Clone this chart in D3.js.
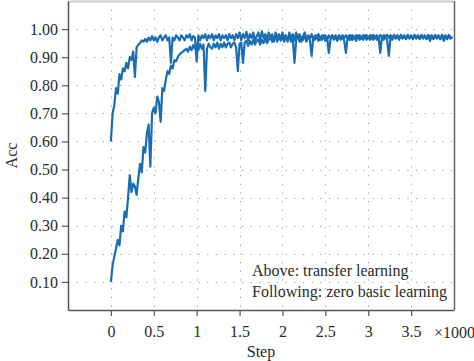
<!DOCTYPE html>
<html>
<head>
<meta charset="utf-8">
<script src="https://cdn.jsdelivr.net/npm/d3@7"></script>
<style>
  body { margin: 0; background: #fff; }
  svg text { font-family: "Liberation Serif", "DejaVu Serif", serif; fill: #2a2a2a; }
</style>
</head>
<body>
<div id="chart"></div>
<script>
// step interval between samples (x1000 steps)
const stepSize = 0.02;

const xTicks = [0, 0.5, 1, 1.5, 2, 2.5, 3, 3.5];
const yTicks = [0.1, 0.2, 0.3, 0.4, 0.5, 0.6, 0.7, 0.8, 0.9, 1.0];

const legendLines = ["Above: transfer learning", "Following: zero basic learning"];

// transfer learning accuracy, one value per 20 steps
const transferAcc = [
  0.60, 0.70, 0.73, 0.79, 0.77, 0.84, 0.82, 0.86, 0.85, 0.88,
  0.86, 0.90, 0.89, 0.92, 0.83, 0.935, 0.945, 0.95, 0.96, 0.955,
  0.965, 0.955, 0.97, 0.96, 0.975, 0.96, 0.97, 0.955, 0.97, 0.978,
  0.96, 0.97, 0.978, 0.96, 0.97, 0.88, 0.97, 0.96, 0.978, 0.97,
  0.96, 0.978, 0.97, 0.96, 0.978, 0.97, 0.982, 0.96, 0.975, 0.97,
  0.885, 0.978, 0.96, 0.978, 0.968, 0.982, 0.96, 0.978, 0.968, 0.982,
  0.96, 0.978, 0.968, 0.982, 0.96, 0.978, 0.968, 0.978, 0.96, 0.982,
  0.968, 0.978, 0.96, 0.982, 0.968, 0.988, 0.96, 0.982, 0.968, 0.99,
  0.96, 0.982, 0.968, 0.988, 0.955, 0.975, 0.988, 0.96, 0.992, 0.968,
  0.982, 0.96, 0.988, 0.968, 0.982, 0.955, 0.988, 0.968, 0.982, 0.96,
  0.988, 0.968, 0.978, 0.955, 0.988, 0.968, 0.982, 0.96, 0.988, 0.968,
  0.982, 0.955, 0.975, 0.988, 0.96, 0.978, 0.968, 0.982, 0.96, 0.978,
  0.968, 0.982, 0.962, 0.978, 0.968, 0.978, 0.962, 0.978, 0.968, 0.978,
  0.968, 0.978, 0.962, 0.978, 0.968, 0.978, 0.968, 0.978, 0.968, 0.978,
  0.962, 0.978, 0.968, 0.978, 0.968, 0.978, 0.966, 0.978, 0.968, 0.979,
  0.968, 0.978, 0.966, 0.979, 0.97, 0.978, 0.968, 0.979, 0.97, 0.978,
  0.968, 0.979, 0.97, 0.978, 0.968, 0.979, 0.97, 0.978, 0.968, 0.979,
  0.97, 0.978, 0.966, 0.979, 0.97, 0.978, 0.968, 0.979, 0.97, 0.978,
  0.968, 0.979, 0.97, 0.978, 0.968, 0.979, 0.97, 0.978, 0.968, 0.979,
  0.97, 0.978, 0.966, 0.979, 0.97, 0.978, 0.966, 0.979, 0.97, 0.97
];

// zero basic learning accuracy, one value per 20 steps
const zeroAcc = [
  0.10, 0.16, 0.19, 0.22, 0.25, 0.23, 0.30, 0.28, 0.35, 0.33,
  0.40, 0.48, 0.42, 0.45, 0.44, 0.41, 0.47, 0.52, 0.49, 0.58,
  0.56, 0.63, 0.66, 0.51, 0.70, 0.72, 0.70, 0.76, 0.74, 0.67,
  0.79, 0.78, 0.82, 0.85, 0.84, 0.87, 0.86, 0.89, 0.885, 0.90,
  0.91, 0.915, 0.92, 0.925, 0.93, 0.92, 0.938, 0.925, 0.943, 0.93,
  0.945, 0.925, 0.948, 0.93, 0.945, 0.78, 0.93, 0.948, 0.935, 0.93,
  0.948, 0.935, 0.952, 0.93, 0.948, 0.935, 0.952, 0.935, 0.948, 0.952,
  0.935, 0.948, 0.952, 0.935, 0.85, 0.948, 0.952, 0.88, 0.952, 0.958,
  0.94, 0.958, 0.945, 0.962, 0.945, 0.958, 0.962, 0.945, 0.962, 0.95,
  0.968, 0.95, 0.962, 0.972, 0.955, 0.968, 0.972, 0.955, 0.978, 0.96,
  0.972, 0.955, 0.972, 0.96, 0.978, 0.955, 0.972, 0.88, 0.962, 0.978,
  0.955, 0.972, 0.962, 0.978, 0.955, 0.972, 0.962, 0.905, 0.972, 0.962,
  0.978, 0.958, 0.972, 0.962, 0.978, 0.958, 0.972, 0.915, 0.962, 0.978,
  0.962, 0.972, 0.958, 0.978, 0.962, 0.972, 0.958, 0.915, 0.972, 0.962,
  0.978, 0.962, 0.972, 0.958, 0.978, 0.962, 0.972, 0.962, 0.978, 0.962,
  0.972, 0.962, 0.978, 0.962, 0.972, 0.962, 0.972, 0.915, 0.972, 0.962,
  0.978, 0.962, 0.905, 0.972, 0.962, 0.978, 0.966, 0.974, 0.962, 0.978,
  0.966, 0.974, 0.964, 0.978, 0.966, 0.974, 0.964, 0.978, 0.966, 0.974,
  0.964, 0.978, 0.966, 0.974, 0.964, 0.978, 0.958, 0.974, 0.964, 0.978,
  0.966, 0.974, 0.964, 0.978, 0.958, 0.974, 0.964, 0.978, 0.966, 0.972
];

const width = 474, height = 361;
const margin = { top: 1, right: 20, bottom: 51, left: 68 };

const svg = d3.select("#chart").append("svg")
  .attr("width", width)
  .attr("height", height);

const x = d3.scaleLinear().domain([-0.5, 4]).range([margin.left, width - margin.right]);
const y = d3.scaleLinear().domain([0, 1.1]).range([height - margin.bottom, margin.top]);

// dotted grid
const grid = svg.append("g").attr("stroke", "#9a9a9a").attr("stroke-width", 1)
  .attr("stroke-dasharray", "1.2,7.5");
grid.selectAll(".gy").data(yTicks).enter().append("line")
  .attr("x1", margin.left).attr("x2", width - margin.right)
  .attr("y1", d => Math.round(y(d)) + 0.5).attr("y2", d => Math.round(y(d)) + 0.5);
grid.selectAll(".gx").data(xTicks).enter().append("line")
  .attr("y1", margin.top).attr("y2", height - margin.bottom)
  .attr("x1", d => Math.round(x(d)) + 0.5).attr("x2", d => Math.round(x(d)) + 0.5);

// frame: light top, dark right
svg.append("line")
  .attr("x1", margin.left).attr("x2", width - margin.right)
  .attr("y1", margin.top + 0.5).attr("y2", margin.top + 0.5)
  .attr("stroke", "#ccc").attr("stroke-width", 2);
svg.append("line")
  .attr("x1", width - margin.right + 0.5).attr("x2", width - margin.right + 0.5)
  .attr("y1", margin.top).attr("y2", height - margin.bottom)
  .attr("stroke", "#666").attr("stroke-width", 1.5);

// curves
const line = d3.line()
  .x((d, i) => x(i * stepSize))
  .y(d => y(d));

svg.append("path").datum(zeroAcc)
  .attr("fill", "none").attr("stroke", "#1b6db1").attr("stroke-width", 2.2)
  .attr("stroke-linejoin", "round")
  .attr("d", line);
svg.append("path").datum(transferAcc)
  .attr("fill", "none").attr("stroke", "#1b6db1").attr("stroke-width", 2.2)
  .attr("stroke-linejoin", "round")
  .attr("d", line);

// axes
const xAxis = svg.append("g")
  .attr("transform", `translate(0,${height - margin.bottom})`)
  .call(d3.axisBottom(x).tickValues(xTicks).tickFormat(d3.format("~g")).tickSize(6).tickSizeOuter(0).tickPadding(10));
const yAxis = svg.append("g")
  .attr("transform", `translate(${margin.left},0)`)
  .call(d3.axisLeft(y).tickValues(yTicks).tickFormat(d3.format(".2f")).tickSize(6).tickSizeOuter(0).tickPadding(4));

[xAxis, yAxis].forEach(a => {
  a.select(".domain").attr("stroke", "#555").attr("stroke-width", 1.5);
  a.selectAll(".tick line").attr("stroke", "#555").attr("stroke-width", 1.2);
  a.selectAll(".tick text").attr("font-size", 16).attr("fill", "#2a2a2a")
    .attr("font-family", "Liberation Serif, DejaVu Serif, serif");
});

svg.append("text")
  .attr("x", 434).attr("y", 338)
  .attr("font-size", 16)
  .text("×1000");

svg.append("text")
  .attr("x", (margin.left + width - margin.right) / 2).attr("y", 357)
  .attr("text-anchor", "middle").attr("font-size", 16)
  .text("Step");

svg.append("text")
  .attr("transform", `translate(17,${(margin.top + height - margin.bottom) / 2}) rotate(-90)`)
  .attr("text-anchor", "middle").attr("font-size", 16)
  .text("Acc");

// legend text
svg.append("g").selectAll("text").data(legendLines).enter().append("text")
  .attr("x", 252)
  .attr("y", (d, i) => 276 + i * 21)
  .attr("font-size", 16)
  .text(d => d);
</script>
</body>
</html>
